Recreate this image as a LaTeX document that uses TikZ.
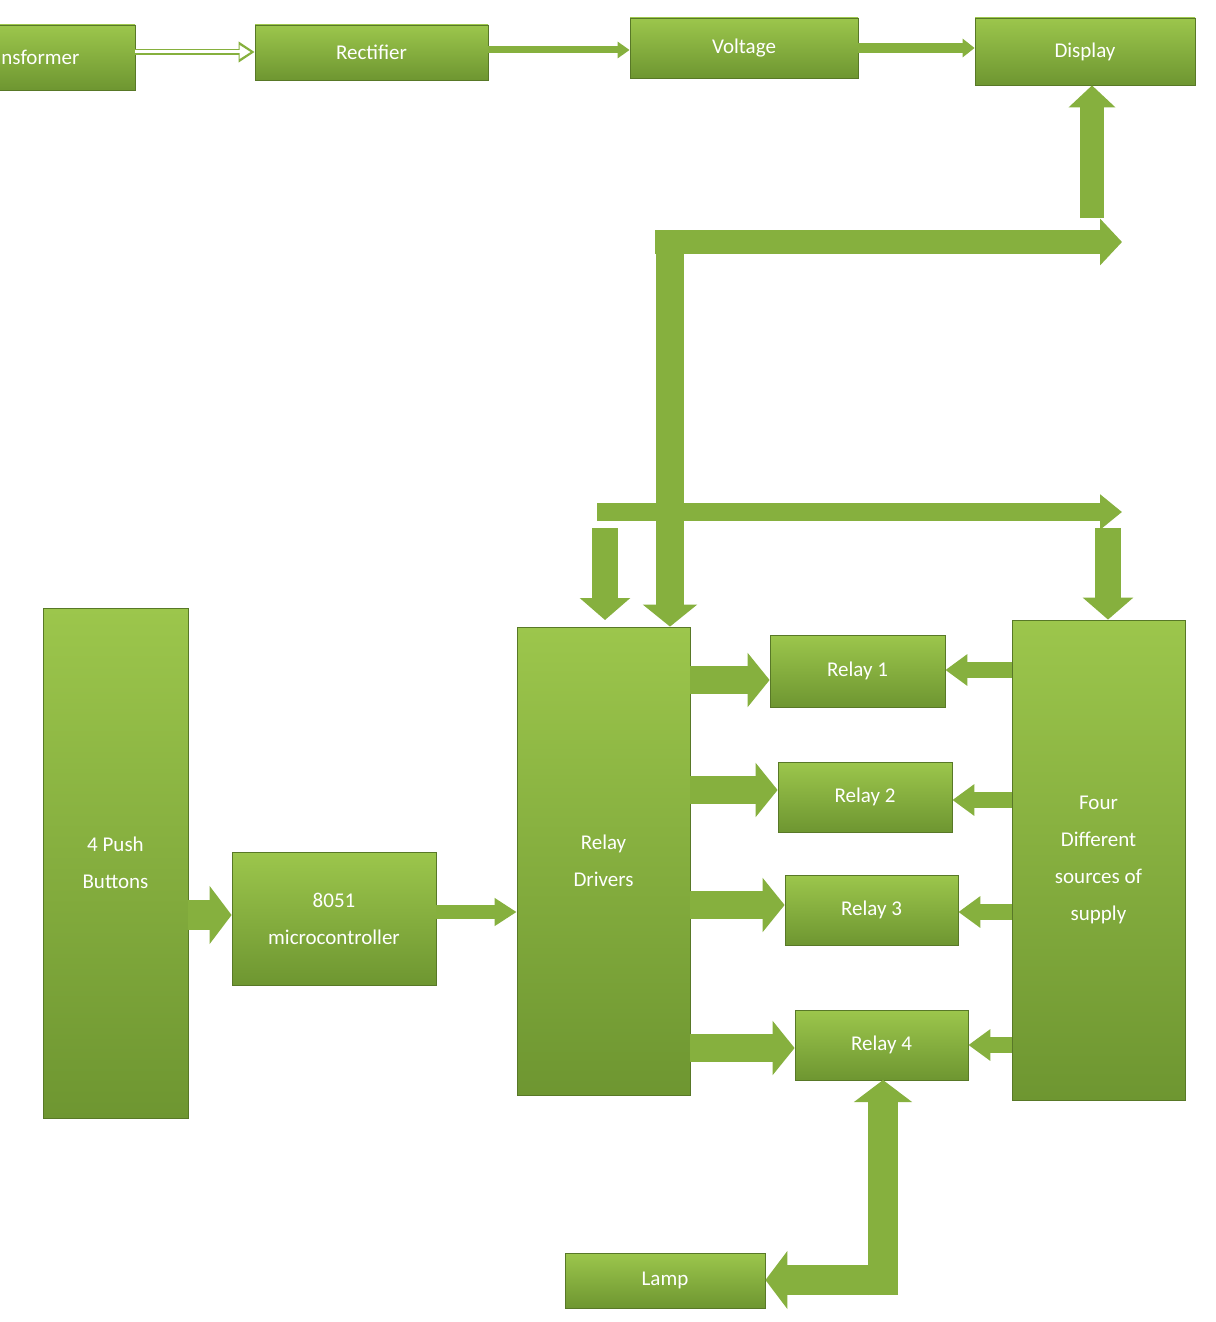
\documentclass[tikz,border=0pt]{standalone}
\usepackage{fontspec}
\setmainfont{Carlito}
\usetikzlibrary{arrows.meta}
\definecolor{gtop}{HTML}{9CC64C}
\definecolor{gbot}{HTML}{6E9631}
\definecolor{garr}{HTML}{86B03E}
\tikzset{
 blk/.style={draw=gbot!80!black,line width=0.8pt,top color=gtop,bottom color=gbot,text=white,align=center,font=\fontsize{21}{37}\selectfont,inner sep=0pt},
 fat/.style={draw=garr,line width=#1,-{Triangle[length=22pt,width=1.9*#1]}},
 fat/.default=22pt,
}
\begin{document}
\begin{tikzpicture}[x=1pt,y=-1pt]
\useasboundingbox (0,0) rectangle (1215,1322);
\clip (0,0) rectangle (1215,1322);
\fill[white] (0,0) rectangle (1215,1322);
\newcommand\bx[6]{\node[blk,minimum width=#4-#2,minimum height=#5-#3] (#1) at ({(#2+#4)/2},{(#3+#5)/2}) {#6};}
\bx{tr}{-80}{25}{135}{90}{Transformer}
\bx{rc}{255}{25}{488}{80}{Rectifier}
\bx{vo}{630}{18}{858}{78}{Voltage}
\bx{di}{975}{18}{1195}{85}{Display}
\bx{pb}{43}{608}{188}{1118}{4 Push\\Buttons}
\bx{mc}{232}{852}{436}{985}{8051\\microcontroller}
\bx{rd}{517}{627}{690}{1095}{Relay\\Drivers}
\bx{ra}{770}{635}{945}{707}{Relay 1}
\bx{rb}{778}{762}{952}{832}{Relay 2}
\bx{rcc}{785}{875}{958}{945}{Relay 3}
\bx{re}{795}{1010}{968}{1080}{Relay 4}
\bx{fs}{1012}{620}{1185}{1100}{Four\\Different\\sources of\\supply}
\bx{la}{565}{1253}{765}{1308}{Lamp}
% top chain
\draw[garr,line width=6pt,-{Triangle[length=16pt,width=20pt]}] (tr.east|-0,52)--(rc.west|-0,52);
\draw[white,line width=3pt,-{Triangle[length=11pt,width=13pt]}] (tr.east|-0,52)--([xshift=-4pt]rc.west|-0,52);
\draw[garr,line width=7pt,-{Triangle[length=12pt,width=16pt]}] (rc.east|-0,50)--(vo.west|-0,50);
\draw[garr,line width=10pt,-{Triangle[length=12pt,width=18pt]}] (vo.east|-0,48)--(di.west|-0,48);
% display connection
\draw[fat=24pt] (655,242)--(1122,242);
\draw[fat=24pt] (1092,218)--(di.south-|1092,0);
\draw[fat=28pt] (670,230)--(rd.north-|670,0);
% second bar
\draw[fat=18pt] (597,512)--(1122,512);
\draw[fat=26pt] (605,528)--(605,620);
\draw[fat=26pt] (1108,528)--(fs.north-|1108,0);
% left chain
\draw[fat=30pt] (pb.east|-0,915)--(mc.west|-0,915);
\draw[fat=14pt] (mc.east|-0,912)--(rd.west|-0,912);
% drivers to relays
\foreach \n/\y in {ra/680,rb/790,rcc/905,re/1048}
 \draw[fat=28pt] (rd.east|-0,\y)--(\n.west|-0,\y);
\foreach \n/\y in {ra/670,rb/800,rcc/912,re/1045}
 \draw[fat=16pt] (fs.west|-0,\y)--(\n.east|-0,\y);
% lamp
\draw[garr,line width=30pt] (883,1295)--(883,1130);
\draw[fat=30pt] (883,1130)--(883,1080);
\draw[fat=30pt] (898,1280)--(la.east|-0,1280);
\end{tikzpicture}
\end{document}
